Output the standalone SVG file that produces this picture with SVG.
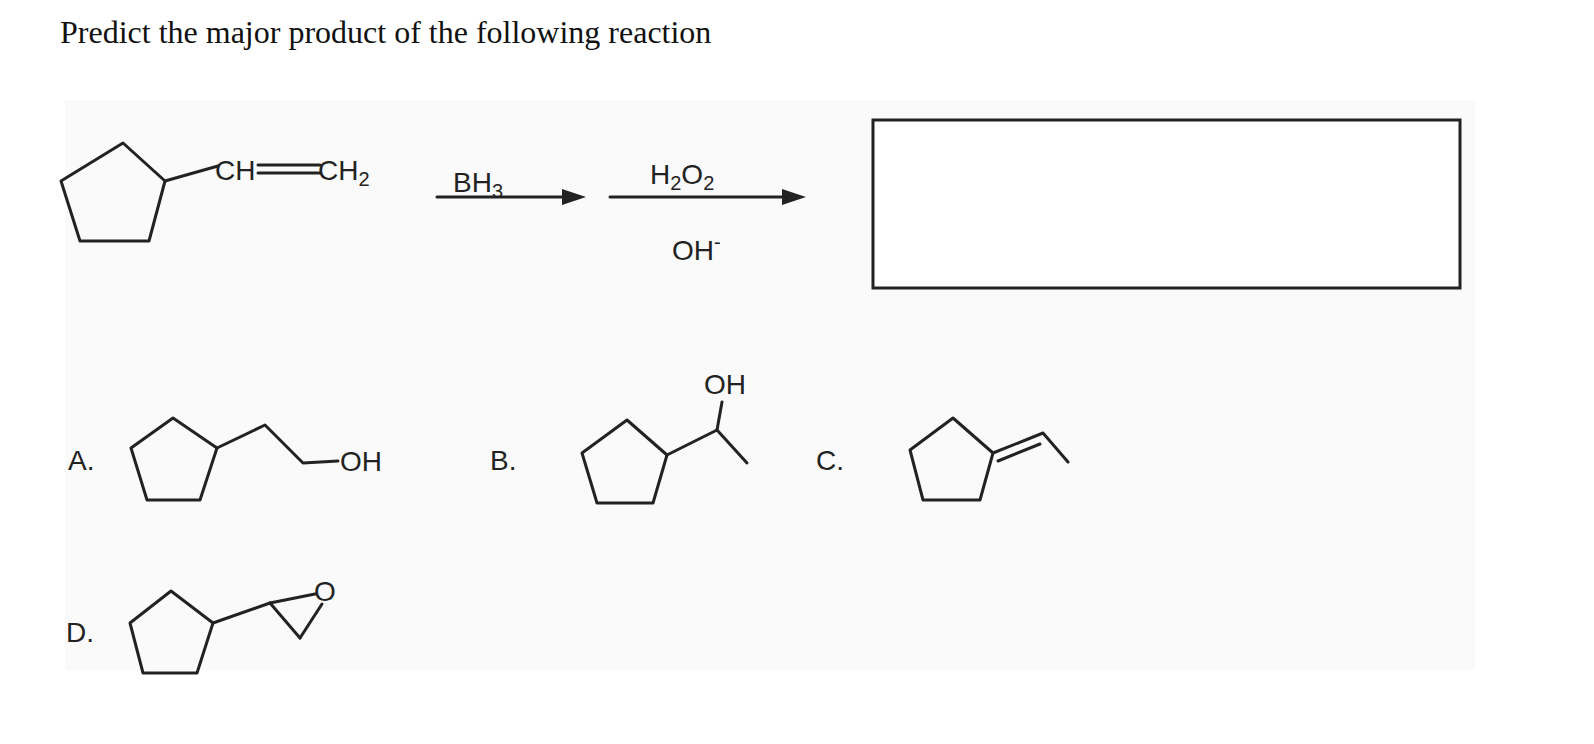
<svg xmlns="http://www.w3.org/2000/svg" width="1594" height="744" viewBox="0 0 1594 744">
<defs>
<style>
.b{fill:none;stroke:#222;stroke-width:3;stroke-linejoin:round;stroke-linecap:round}
.t{font-family:"Liberation Sans",Arial,sans-serif;font-size:28px;fill:#222}
.s{font-size:20px}
.h{fill:#222}
</style>
</defs>
<rect width="1594" height="744" fill="#fff"/>
<rect x="65" y="100" width="1410" height="570" fill="#fafafa"/>
<text x="60" y="43" font-family="Liberation Serif,serif" font-size="32" fill="#111">Predict the major product of the following reaction</text>
<g id="reactant">
<polygon class="b" points="123,143 165,181 149,241 80,241 61,181"/>
<line class="b" x1="165" y1="181" x2="218" y2="166"/>
<text class="t" x="215" y="180">CH</text>
<line class="b" x1="258" y1="165" x2="320" y2="165"/>
<line class="b" x1="258" y1="173" x2="320" y2="173"/>
<text class="t" x="318" y="180">CH<tspan class="s" dy="6">2</tspan></text>
</g>
<g id="connectors">
<line class="b" x1="437" y1="197" x2="565" y2="197" stroke-linecap="butt"/>
<polygon class="h" points="562,189 586,197 562,205"/>
<line class="b" x1="610" y1="197" x2="785" y2="197" stroke-linecap="butt"/>
<polygon class="h" points="782,189 806,197 782,205"/>
</g>
<g id="reagents">
<text class="t" x="453" y="192">BH<tspan class="s" dy="6">3</tspan></text>
<text class="t" x="650" y="184">H<tspan class="s" dy="6">2</tspan><tspan dy="-6">O</tspan><tspan class="s" dy="6">2</tspan></text>
<text class="t" x="672" y="260">OH<tspan class="s" dy="-11">-</tspan></text>
</g>
<g id="answer-box"><rect x="873" y="120" width="587" height="168" fill="#fff" stroke="#222" stroke-width="3"/></g>
<g id="optA">
<text class="t" x="68" y="470">A.</text>
<polygon class="b" points="173,418 217,448 200,500 147,500 131,448"/>
<polyline class="b" points="217,448 265,425 303,463 338,461"/>
<text class="t" x="340" y="471">OH</text>
</g>
<g id="optB">
<text class="t" x="490" y="470">B.</text>
<polygon class="b" points="627,420 667,455 653,503 597,503 582,453"/>
<polyline class="b" points="667,455 717,430 747,463"/>
<line class="b" x1="717" y1="430" x2="722" y2="402"/>
<text class="t" x="704" y="394">OH</text>
</g>
<g id="optC">
<text class="t" x="816" y="470">C.</text>
<polygon class="b" points="953,418 993,453 980,500 923,500 910,450"/>
<polyline class="b" points="993,453 1043,433 1068,462"/>
<line class="b" x1="998" y1="461" x2="1040" y2="444"/>
</g>
<g id="optD">
<text class="t" x="66" y="642">D.</text>
<polygon class="b" points="171,591 213,623 197,673 143,673 130,623"/>
<line class="b" x1="213" y1="623" x2="270" y2="603"/>
<line class="b" x1="270" y1="603" x2="315" y2="594"/>
<line class="b" x1="270" y1="603" x2="300" y2="638"/>
<line class="b" x1="300" y1="638" x2="322" y2="604"/>
<text class="t" x="314" y="601">O</text>
</g>
</svg>
